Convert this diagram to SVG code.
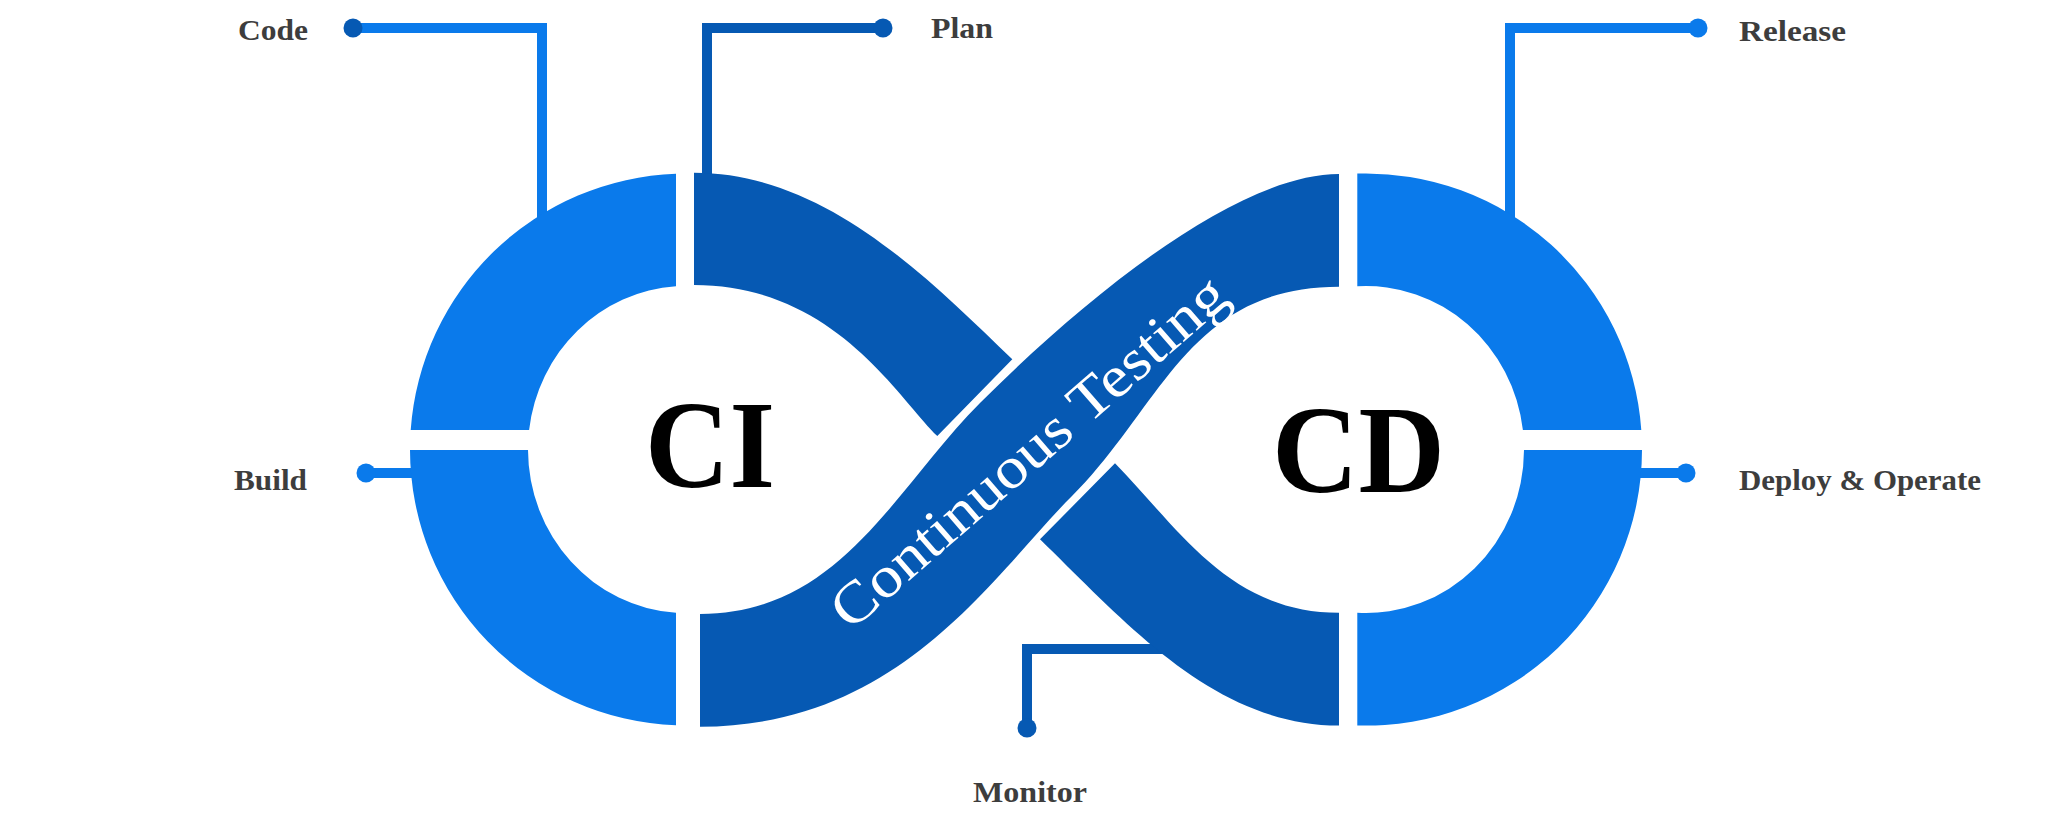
<svg xmlns="http://www.w3.org/2000/svg" width="2048" height="826" viewBox="0 0 2048 826">
<style>
.light{fill:#0A7AEB}
.dark{fill:#0659B3}
.cl{fill:none;stroke:#0A7AEB;stroke-width:10;stroke-linejoin:miter}
.cd{fill:none;stroke:#0659B3;stroke-width:10;stroke-linejoin:miter}
.lbl{font-family:"Liberation Serif","Times New Roman",serif;font-weight:bold;font-size:29px;fill:#3d3d3d}
.big{font-family:"Liberation Serif","Times New Roman",serif;font-weight:bold;font-size:125px;fill:#000}
.ct{font-family:"Liberation Serif","Times New Roman",serif;font-size:58px;fill:#fff}
</style>
<rect width="2048" height="826" fill="#fff"/>
<g id="connectors">
<polyline class="cl" points="353,28 542,28 542,230"/>
<circle cx="353" cy="28" r="9.5" class="dark"/>
<polyline class="cd" points="883,28 707,28 707,190"/>
<circle cx="883" cy="28" r="9.5" class="dark"/>
<polyline class="cl" points="1698,28 1510,28 1510,230"/>
<circle cx="1698" cy="28" r="9.5" class="light"/>
<line class="cl" x1="366" y1="473" x2="425" y2="473"/>
<circle cx="366" cy="473" r="9.5" class="light"/>
<line class="cl" x1="1625" y1="473" x2="1686" y2="473"/>
<circle cx="1686" cy="473" r="9.5" class="light"/>
<polyline class="cd" points="1027,728 1027,649 1165,649"/>
<circle cx="1027" cy="728" r="9.5" class="dark"/>
</g>
<g id="code">
<path class="light" d="M410.7 430 A276 276 0 0 1 676 173.7 L676 286.3 A158 163.5 0 0 0 529.1 430 Z"/>
<text class="lbl" x="238" y="40" textLength="70" lengthAdjust="spacingAndGlyphs">Code</text>
</g>
<g id="build">
<path class="light" d="M410 450 L528 450 A158 163.5 0 0 0 676 612.7 L676 725.3 A276 276 0 0 1 410 450 Z"/>
<text class="lbl" x="234" y="490" textLength="73" lengthAdjust="spacingAndGlyphs">Build</text>
</g>
<g id="plan">
<path class="dark" d="M694 172.7 C824 172.7 926 276 1012.3 359.3 L937.3 436 C897.8 397.8 834 285 694 285 Z"/>
<text class="lbl" x="931" y="38" textLength="62" lengthAdjust="spacingAndGlyphs">Plan</text>
</g>
<g id="continuous-testing">
<path class="dark" d="M700 614 C840 614 895 488 980 403 C1090 293 1239 174 1339 174 L1339 286.7 C1189 286.7 1162 406 1072 496 C992 576 900 726.7 700 726.7 Z"/>
<text class="ct" x="0" y="0" text-anchor="middle" textLength="505" lengthAdjust="spacingAndGlyphs" transform="translate(1041 466) rotate(-41)">Continuous Testing</text>
</g>
<g id="release">
<path class="light" d="M1357.3 173.6 A276 276 0 0 1 1641.3 430 L1522.9 430 A158 163.5 0 0 0 1357.3 286.3 Z"/>
<text class="lbl" x="1739" y="41" textLength="107" lengthAdjust="spacingAndGlyphs">Release</text>
</g>
<g id="deploy-operate">
<path class="light" d="M1642 450 A276 276 0 0 1 1357.3 725.4 L1357.3 612.8 A158 163.5 0 0 0 1524 450 Z"/>
<text class="lbl" x="1739" y="490" textLength="242" lengthAdjust="spacingAndGlyphs">Deploy &amp; Operate</text>
</g>
<g id="monitor">
<path class="dark" d="M1040 539.3 C1126 623 1215 725.5 1339 725.5 L1339 612.7 C1230 612.7 1180 530 1115 463.3 Z"/>
<text class="lbl" x="973" y="802" textLength="114" lengthAdjust="spacingAndGlyphs">Monitor</text>
</g>
<g id="ci">
<text class="big" x="645" y="487" textLength="130" lengthAdjust="spacingAndGlyphs">CI</text>
</g>
<g id="cd">
<text class="big" x="1272" y="492" textLength="173" lengthAdjust="spacingAndGlyphs">CD</text>
</g>
</svg>
